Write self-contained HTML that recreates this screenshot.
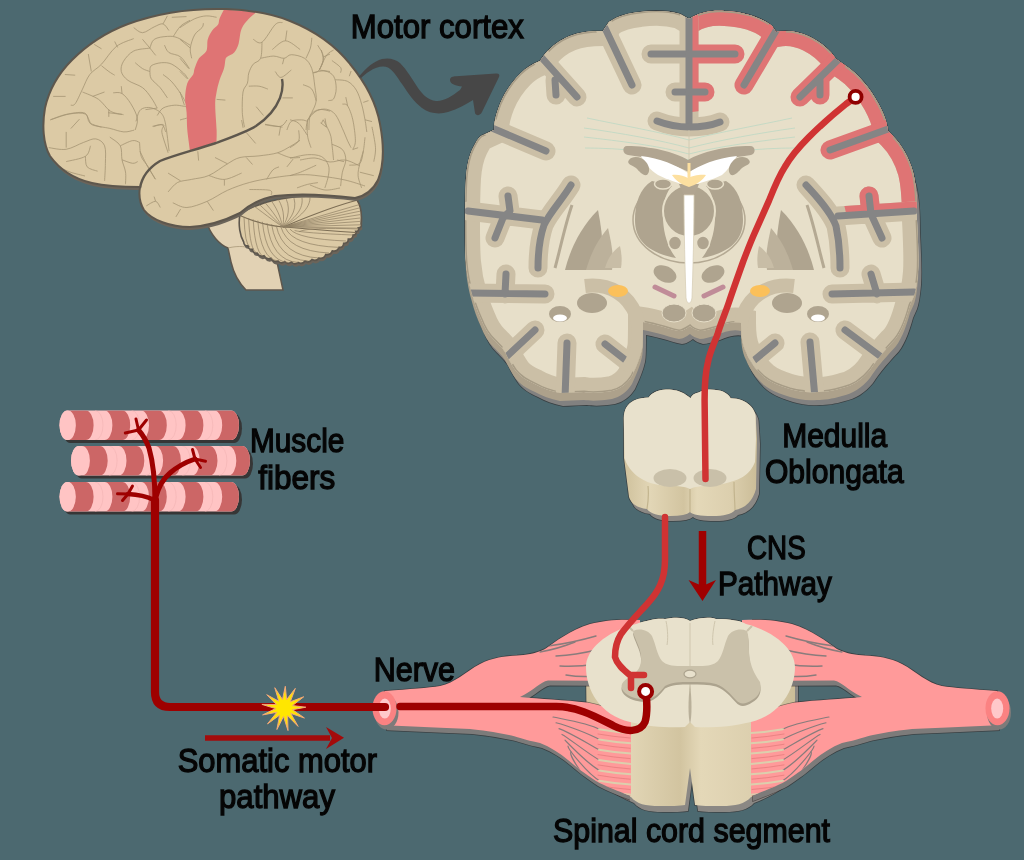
<!DOCTYPE html>
<html><head><meta charset="utf-8"><title>Somatic motor pathway</title>
<style>
html,body{margin:0;padding:0;background:#4c6970;}
svg{display:block;}
text{font-family:"Liberation Sans",sans-serif;font-size:33px;font-weight:normal;fill:#050505;stroke:#050505;stroke-width:1.3px;}
</style></head><body>
<svg width="1024" height="860" viewBox="0 0 1024 860">
<rect width="1024" height="860" fill="#4c6970"/>

<!-- ===== LATERAL BRAIN ===== -->
<defs>
 <clipPath id="cerebClip"><path d="M226,9 C250,10 270,13 290,21 C315,31 335,45 350,64 C365,82 376,102 380,124 C384,145 384,165 378,180 C373,190 365,196 355,198 C330,195 300,193 275,196 C258,199 248,206 240,213 C228,219 210,226 190,227 C170,227 152,220 144,210 C139,202 139,193 140,187 C125,187 105,186 92,183 C75,179 60,170 50,156 C43,144 42,125 45,108 C49,90 58,74 72,60 C86,46 104,33 128,24 C155,14 190,8 226,9 Z"/></clipPath>
 <clipPath id="tempClip"><path d="M140,188 C142,176 150,167 160,161 C175,155 195,150 216,143 C232,137 246,132 256,126 C268,118 276,108 280,98 L300,100 L384,150 L378,180 C373,190 365,196 355,198 C330,195 300,193 275,196 C258,199 248,206 240,213 C228,219 210,226 190,227 C170,227 152,220 144,210 C139,202 139,193 140,187 Z"/></clipPath>
 <clipPath id="cblClip"><path d="M240,214 C255,204 280,197 310,196 C335,196 352,198 357,200 C361,206 362,215 361,224 Q362.3,227.7 358.3,227.7 Q359.6,231.4 355.7,231.3 Q356.9,235.0 353.0,235.0 Q352.8,239.5 348.3,239.1 Q348.1,243.6 343.7,243.3 Q343.5,247.7 339.0,247.4 Q337.2,252.0 332.3,250.9 Q330.5,255.5 325.7,254.5 Q323.8,259.1 319.0,258.0 Q316.2,261.9 312.0,259.5 Q309.2,263.4 305.0,261.0 Q302.2,264.9 298.0,262.5 Q294.4,265.4 291.3,262.0 Q287.8,264.9 284.7,261.5 Q281.1,264.4 278.0,261.0 Q273.4,262.7 271.0,258.3 Q266.4,260.0 264.0,255.7 Q259.4,257.3 257.0,253.0 Q252.7,253.6 252.6,249.3 Q248.3,250.0 248.1,245.7 Q243.9,246.3 243.7,242.0 C240,236 238,225 240,214 Z"/></clipPath>
</defs>
<g id="lat">
  <path d="M206,220 C210,235 220,245 228,248 L231,262 C234,275 240,284 246,290 L283,290 L277,262 L262,256 L246,242 L240,214 Z" fill="#e2d2b4" stroke="#5e574d" stroke-width="1.5"/>
  <path d="M228,248 C236,246 244,246 250,248" fill="none" stroke="#a89878" stroke-width="0.8"/>
  <path d="M240,214 C255,204 280,197 310,196 C335,196 352,198 357,200 C361,206 362,215 361,224 Q362.3,227.7 358.3,227.7 Q359.6,231.4 355.7,231.3 Q356.9,235.0 353.0,235.0 Q352.8,239.5 348.3,239.1 Q348.1,243.6 343.7,243.3 Q343.5,247.7 339.0,247.4 Q337.2,252.0 332.3,250.9 Q330.5,255.5 325.7,254.5 Q323.8,259.1 319.0,258.0 Q316.2,261.9 312.0,259.5 Q309.2,263.4 305.0,261.0 Q302.2,264.9 298.0,262.5 Q294.4,265.4 291.3,262.0 Q287.8,264.9 284.7,261.5 Q281.1,264.4 278.0,261.0 Q273.4,262.7 271.0,258.3 Q266.4,260.0 264.0,255.7 Q259.4,257.3 257.0,253.0 Q252.7,253.6 252.6,249.3 Q248.3,250.0 248.1,245.7 Q243.9,246.3 243.7,242.0 C240,236 238,225 240,214 Z" transform="translate(1,3)" fill="#6b645a"/>
  <path d="M240,214 C255,204 280,197 310,196 C335,196 352,198 357,200 C361,206 362,215 361,224 Q362.3,227.7 358.3,227.7 Q359.6,231.4 355.7,231.3 Q356.9,235.0 353.0,235.0 Q352.8,239.5 348.3,239.1 Q348.1,243.6 343.7,243.3 Q343.5,247.7 339.0,247.4 Q337.2,252.0 332.3,250.9 Q330.5,255.5 325.7,254.5 Q323.8,259.1 319.0,258.0 Q316.2,261.9 312.0,259.5 Q309.2,263.4 305.0,261.0 Q302.2,264.9 298.0,262.5 Q294.4,265.4 291.3,262.0 Q287.8,264.9 284.7,261.5 Q281.1,264.4 278.0,261.0 Q273.4,262.7 271.0,258.3 Q266.4,260.0 264.0,255.7 Q259.4,257.3 257.0,253.0 Q252.7,253.6 252.6,249.3 Q248.3,250.0 248.1,245.7 Q243.9,246.3 243.7,242.0 C240,236 238,225 240,214 Z" fill="#dccaa5" stroke="#5e574d" stroke-width="1.6"/>
  <g fill="none" stroke="#8f8064" stroke-width="0.7" clip-path="url(#cblClip)">
    <path d="M241,216 C255,222 270,226 283,227 C300,228 330,231 362,233" stroke-width="1.1" stroke="#7d6e55"/>
    <path d="M283,227 C300,220 330,207 358,200" stroke-width="1.1" stroke="#7d6e55"/>
    <path d="M283,227 L360,204.4"/><path d="M283,227 L360,207.8"/><path d="M283,227 L360,211.2"/><path d="M283,227 L360,214.6"/><path d="M283,227 L360,218.0"/><path d="M283,227 L360,221.4"/><path d="M283,227 L360,224.8"/><path d="M283,227 L360,228.2"/>
    <path d="M246,200.0 C262,212 275,222 283,227"/><path d="M254,199.7 C268,212 277,222 283,227"/><path d="M262,199.4 C274,212 279,222 283,227"/><path d="M270,199.1 C280,212 281,222 283,227"/><path d="M278,198.8 C286,212 283,222 283,227"/><path d="M286,198.5 C292,212 285,222 283,227"/><path d="M294,198.2 C298,212 287,222 283,227"/><path d="M302,197.9 C304,212 289,222 283,227"/><path d="M310,197.6 C310,212 291,222 283,227"/>
    <path d="M244.0,216.8 Q244.9,245.0 250.0,247.0"/><path d="M248.6,218.1 Q249.9,251.0 257.0,253.0"/><path d="M253.2,219.3 Q255.1,256.0 266.0,258.0"/><path d="M257.8,220.5 Q260.8,259.0 278.0,261.0"/><path d="M262.4,221.8 Q266.2,260.5 288.0,262.5"/><path d="M267.0,223.0 Q271.6,260.5 298.0,262.5"/><path d="M271.6,224.3 Q277.1,259.0 308.0,261.0"/><path d="M276.2,225.5 Q282.6,256.0 319.0,258.0"/><path d="M280.8,226.7 Q288.0,251.0 329.0,253.0"/><path d="M285.4,228.0 Q293.4,245.4 339.0,247.4"/><path d="M290.0,229.2 Q298.4,239.0 346.0,241.0"/><path d="M294.6,230.5 Q303.4,233.0 353.0,235.0"/><path d="M299.2,231.7 Q308.0,227.0 358.0,229.0"/>
  </g>
  <path d="M226,9 C250,10 270,13 290,21 C315,31 335,45 350,64 C365,82 376,102 380,124 C384,145 384,165 378,180 C373,190 365,196 355,198 C330,195 300,193 275,196 C258,199 248,206 240,213 C228,219 210,226 190,227 C170,227 152,220 144,210 C139,202 139,193 140,187 C125,187 105,186 92,183 C75,179 60,170 50,156 C43,144 42,125 45,108 C49,90 58,74 72,60 C86,46 104,33 128,24 C155,14 190,8 226,9 Z" transform="translate(1,3)" fill="#6b645a"/>
  <path d="M226,9 C250,10 270,13 290,21 C315,31 335,45 350,64 C365,82 376,102 380,124 C384,145 384,165 378,180 C373,190 365,196 355,198 C330,195 300,193 275,196 C258,199 248,206 240,213 C228,219 210,226 190,227 C170,227 152,220 144,210 C139,202 139,193 140,187 C125,187 105,186 92,183 C75,179 60,170 50,156 C43,144 42,125 45,108 C49,90 58,74 72,60 C86,46 104,33 128,24 C155,14 190,8 226,9 Z" fill="#dccaa5"/>
  <g fill="none" stroke="#a49474" stroke-width="0.8" clip-path="url(#cerebClip)">
  <path d="M133.7,38.6 C130.8,39.9 121.6,42.3 116.2,46.6 C110.8,50.9 105.9,59.6 101.5,64.2 C97.1,68.9 93.0,70.3 89.8,74.5 C86.6,78.7 84.9,84.2 82.5,89.1 C80.1,94.0 77.2,101.0 75.2,103.7 C73.2,106.4 71.5,105.0 70.8,105.2"/>
<path d="M94.2,44.4 L101.5,48.8"/>
<path d="M114.7,41.5 L117.6,47.4"/>
<path d="M88.3,54.0 L91.3,71.5"/>
<path d="M64.9,74.5 L75.2,75.2"/>
<path d="M53.2,96.4 L65.6,96.4"/>
<path d="M101.5,65.7 C102.7,66.7 106.6,69.9 108.8,71.5 C111.0,73.1 113.7,74.6 114.7,75.2"/>
<path d="M82.5,92.0 C85.2,93.2 94.0,96.2 98.6,99.4 C103.2,102.6 106.1,108.5 110.3,111.1 C114.5,113.6 121.3,114.1 123.5,114.7"/>
<path d="M92.7,96.4 L104.5,92.0"/>
<path d="M108.8,109.6 L108.8,116.9"/>
<path d="M50.3,119.9 C53.5,118.9 63.4,115.0 69.3,114.0 C75.2,113.0 82.0,112.5 85.4,114.0 C88.8,115.5 87.1,120.6 89.8,122.8 C92.5,125.0 99.5,126.5 101.5,127.2"/>
<path d="M70.8,128.6 L79.5,119.1"/>
<path d="M113.2,92.8 C114.7,92.9 119.1,91.7 122.0,93.5 C124.9,95.3 128.2,99.5 130.8,103.7 C133.4,107.9 136.7,114.0 137.4,118.4 C138.1,122.8 135.6,128.1 135.2,130.0"/>
<path d="M121.3,86.2 L122.0,93.5"/>
<path d="M133.7,27.6 C135.2,28.5 139.1,32.8 142.5,32.7 C145.9,32.6 150.9,28.3 154.3,26.8 C157.7,25.3 160.6,23.3 163.0,23.9 C165.4,24.5 167.9,29.4 168.9,30.5"/>
<path d="M163.0,23.9 L167.4,15.9"/>
<path d="M171.8,17.3 L186.5,16.6"/>
<path d="M142.5,39.3 C143.7,40.8 147.7,45.4 149.9,48.1 C152.1,50.8 154.7,54.2 155.7,55.4"/>
<path d="M149.9,48.1 C147.2,48.6 138.1,48.8 133.7,51.0 C129.3,53.2 125.6,57.9 123.5,61.3 C121.4,64.7 120.6,68.3 121.3,71.5 C122.0,74.7 124.4,77.6 127.9,80.3 C131.4,83.0 138.6,84.7 142.5,87.6 C146.4,90.5 148.9,94.5 151.3,97.9 C153.8,101.3 156.2,106.4 157.2,108.1"/>
<path d="M149.9,48.1 C150.6,46.6 151.4,41.2 154.3,39.3 C157.2,37.3 163.5,36.6 167.4,36.4 C171.3,36.1 173.9,36.3 177.7,37.8 C181.5,39.3 187.9,44.0 190.0,45.2"/>
<path d="M173.3,36.4 C174.5,34.7 177.8,28.8 180.6,26.1 C183.4,23.4 188.4,21.3 190.0,20.3"/>
<path d="M135.2,62.7 C136.4,63.7 140.1,67.1 142.5,68.6 C144.9,70.1 148.7,71.0 149.9,71.5"/>
<path d="M149.9,71.5 C150.1,70.5 149.4,67.2 151.3,65.7 C153.2,64.2 158.2,63.0 161.6,62.7 C165.0,62.5 168.2,62.5 171.8,64.2 C175.5,65.9 180.8,70.6 183.5,73.0 C186.2,75.4 187.2,77.8 188.0,78.8"/>
<path d="M149.9,71.5 C150.1,72.7 149.6,76.1 151.3,78.8 C153.0,81.5 157.4,84.4 160.1,87.6 C162.8,90.8 166.2,96.2 167.4,97.9"/>
<path d="M163.0,74.5 C164.5,75.7 168.9,78.6 171.8,81.8 C174.7,85.0 178.2,89.8 180.6,93.5 C183.0,97.2 185.5,102.0 186.5,103.7"/>
<path d="M164.5,45.2 C165.2,46.4 166.2,50.5 168.9,52.5 C171.6,54.5 177.2,54.2 180.6,56.9 C184.0,59.6 187.9,66.6 189.4,68.6"/>
<path d="M157.2,115.5 C158.2,114.3 160.1,109.8 163.0,108.1 C165.9,106.4 170.9,105.4 174.8,105.2 C178.7,105.0 184.6,106.5 186.5,106.7"/>
<path d="M145.5,109.6 L157.2,108.1"/>
<path d="M180.0,27.6 C182.4,26.1 190.2,20.8 194.6,18.8 C199.0,16.9 202.7,16.1 206.4,15.9 C210.1,15.7 214.9,17.1 216.6,17.3"/>
<path d="M203.4,23.2 C203.2,23.9 203.5,25.7 202.0,27.6 C200.5,29.6 196.5,31.5 194.6,34.9 C192.7,38.3 190.8,44.2 190.3,48.1 C189.8,52.0 191.5,56.6 191.7,58.3"/>
<path d="M180.0,39.3 L190.3,48.1"/>
<path d="M180.0,58.3 L188.8,68.6"/>
<path d="M180.0,71.5 L187.3,78.8"/>
<path d="M180.0,92.0 L184.4,105.2"/>
<path d="M253.2,39.3 C254.7,39.8 258.3,44.7 262.0,42.2 C265.7,39.8 271.8,27.9 275.2,24.6 C278.6,21.3 281.3,22.9 282.5,22.5"/>
<path d="M262.0,42.2 C261.8,44.9 262.1,54.6 260.6,58.3 C259.1,62.0 255.2,61.8 253.2,64.2 C251.2,66.7 249.8,69.8 248.8,73.0 C247.8,76.2 248.4,80.0 247.4,83.2 C246.4,86.4 243.8,87.1 243.0,92.0 C242.2,96.9 242.1,106.6 242.3,112.5 C242.6,118.4 244.1,124.8 244.5,127.2"/>
<path d="M272.3,49.5 C274.5,48.0 280.9,40.8 285.5,40.8 C290.1,40.8 297.7,48.0 300.1,49.5"/>
<path d="M285.5,40.8 L286.9,30.5"/>
<path d="M260.6,58.3 C262.8,57.9 269.8,56.1 273.7,56.1 C277.6,56.1 281.1,58.5 284.0,58.3 C286.9,58.1 287.9,54.7 291.3,54.7 C294.7,54.7 301.1,56.0 304.5,58.3 C307.9,60.6 310.1,63.9 311.8,68.6 C313.5,73.2 314.1,80.8 314.8,86.2 C315.5,91.6 316.7,96.4 316.2,100.8 C315.7,105.2 313.3,109.1 311.8,112.5 C310.3,115.9 308.4,118.4 307.4,121.3 C306.4,124.2 306.2,128.6 306.0,130.0"/>
<path d="M284.0,58.3 L282.5,64.2"/>
<path d="M248.8,86.2 C250.5,86.2 255.9,85.7 259.1,86.2 C262.3,86.7 266.4,88.6 267.9,89.1"/>
<path d="M275.2,71.5 C276.2,72.5 278.3,77.7 281.0,77.4 C283.7,77.2 289.6,71.2 291.3,70.0"/>
<path d="M282.5,97.9 L292.8,97.9"/>
<path d="M256.2,106.7 L263.5,115.5"/>
<path d="M303.0,84.7 C304.5,85.4 309.6,86.4 311.8,89.1 C314.0,91.8 315.5,98.8 316.2,100.8"/>
<path d="M311.8,37.8 C311.6,39.5 311.4,44.7 310.4,48.1 C309.4,51.5 306.7,56.6 306.0,58.3"/>
<path d="M317.7,45.2 C318.7,47.2 323.2,52.8 323.5,56.9 C323.8,61.0 320.9,67.3 319.2,70.0 C317.5,72.7 314.3,72.5 313.3,73.0"/>
<path d="M323.5,56.9 L330.0,54.0"/>
<path d="M330.0,71.5 L319.2,70.0"/>
<path d="M308.9,130.0 C309.1,127.6 308.7,118.9 310.4,115.5 C312.1,112.1 315.9,110.3 319.2,109.6 C322.5,108.9 328.2,110.8 330.0,111.1"/>
<path d="M286.9,130.0 C287.6,128.6 288.9,123.0 291.3,121.3 C293.8,119.6 298.9,119.9 301.6,119.9 C304.3,119.9 306.4,121.1 307.4,121.3"/>
<path d="M265.0,124.3 L282.5,127.2"/>
<path d="M320.6,122.8 L326.5,127.2"/>
<path d="M325.0,118.4 L326.5,127.2"/>
<path d="M216.6,99.4 L225.4,100.1"/>
<path d="M180.0,120.0 C182.3,119.2 190.3,117.7 194.0,115.0 C197.7,112.3 200.7,105.8 202.0,104.0"/>
<path d="M321.4,50.0 C321.7,51.8 323.5,57.3 323.2,60.5 C322.9,63.7 320.3,67.8 319.7,69.2"/>
<path d="M312.7,72.7 C314.7,72.4 321.4,70.4 324.9,71.0 C328.4,71.6 331.7,73.3 333.6,76.2 C335.5,79.1 336.2,84.6 336.2,88.4 C336.2,92.2 334.9,96.9 333.6,98.9 C332.3,100.9 329.3,100.3 328.4,100.6"/>
<path d="M319.7,69.2 C320.9,66.9 324.3,58.4 326.6,55.2 C328.9,52.0 332.4,50.9 333.6,50.0"/>
<path d="M331.9,60.5 C333.3,61.7 339.2,65.5 340.6,67.5 C342.1,69.5 340.6,71.8 340.6,72.7"/>
<path d="M349.3,76.2 L351.1,71.0"/>
<path d="M335.4,79.7 C337.4,80.0 344.1,79.7 347.6,81.4 C351.1,83.1 354.0,86.3 356.3,90.1 C358.6,93.9 360.2,99.1 361.6,104.1 C363.1,109.0 364.1,115.1 365.0,119.8 C365.9,124.5 366.5,130.0 366.8,132.0"/>
<path d="M363.3,102.4 L368.5,100.6"/>
<path d="M365.0,119.8 L372.0,121.6"/>
<path d="M342.4,104.1 C343.3,104.4 345.9,103.2 347.6,105.8 C349.3,108.4 351.5,114.0 352.8,119.8 C354.1,125.6 355.4,135.9 355.4,140.8 C355.4,145.8 353.2,148.1 352.8,149.5"/>
<path d="M347.6,105.8 L345.8,97.1"/>
<path d="M352.8,149.5 L358.1,147.7"/>
<path d="M323.2,119.8 C324.4,122.1 328.7,129.7 330.1,133.8 C331.6,137.9 331.3,139.8 331.9,144.2 C332.5,148.6 333.3,157.4 333.6,160.0"/>
<path d="M323.2,119.8 L321.4,123.3"/>
<path d="M307.5,119.8 C308.9,118.3 313.0,112.8 316.2,111.1 C319.4,109.3 323.4,108.7 326.6,109.3 C329.8,109.9 332.8,111.4 335.4,114.6 C338.0,117.8 340.4,124.1 342.4,128.5 C344.4,132.9 346.2,137.6 347.6,140.8 C349.1,144.0 350.5,146.5 351.1,147.7"/>
<path d="M307.5,119.8 C307.5,122.4 306.9,130.8 307.5,135.5 C308.1,140.2 310.4,145.7 311.0,147.7"/>
<path d="M290.0,119.8 C291.4,120.4 295.8,120.7 298.7,123.3 C301.6,125.9 306.0,133.5 307.5,135.5"/>
<path d="M298.7,130.3 C298.7,132.1 300.1,137.9 298.7,140.8 C297.2,143.7 291.4,146.5 290.0,147.7"/>
<path d="M331.9,144.2 C333.6,145.1 340.1,146.9 342.4,149.5 C344.7,152.1 345.8,156.2 345.8,160.0 C345.8,163.8 343.3,167.8 342.4,172.2 C341.5,176.5 340.9,183.8 340.6,186.1"/>
<path d="M337.1,160.0 L344.1,161.7"/>
<path d="M349.3,165.2 C351.1,164.9 357.5,165.7 359.8,163.4 C362.1,161.1 362.4,155.5 363.3,151.2 C364.2,146.8 364.7,139.6 365.0,137.3"/>
<path d="M363.3,151.2 C362.7,153.2 360.7,159.3 359.8,163.4 C358.9,167.5 357.8,171.6 358.1,175.7 C358.4,179.8 361.0,185.9 361.6,187.9"/>
<path d="M372.0,126.8 C372.6,130.3 375.2,141.9 375.5,147.7 C375.8,153.5 374.1,159.4 373.8,161.7"/>
<path d="M359.8,172.2 L373.8,175.7"/>
<path d="M290.0,158.2 C292.9,157.6 302.3,155.0 307.5,154.7 C312.7,154.4 317.9,154.8 321.4,156.5 C324.9,158.2 327.2,162.0 328.4,165.2 C329.6,168.4 329.0,171.9 328.4,175.7 C327.8,179.5 325.5,185.9 324.9,187.9"/>
<path d="M290.0,175.7 C291.8,175.1 296.1,173.9 300.5,172.2 C304.9,170.4 313.6,166.4 316.2,165.2"/>
<path d="M297.0,187.9 C298.8,187.3 304.0,185.3 307.5,184.4 C311.0,183.5 316.2,182.9 317.9,182.6"/>
<path d="M168.1,191.9 C169.7,190.3 173.6,184.6 177.5,182.5 C181.4,180.4 186.4,180.6 191.6,179.4 C196.8,178.2 202.8,178.1 208.8,175.5 C214.8,172.9 222.3,166.8 227.5,163.8 C232.7,160.8 234.8,158.8 240.0,157.5 C245.2,156.2 252.6,156.7 258.8,155.9 C265.1,155.1 272.3,154.4 277.5,152.8 C282.7,151.2 286.2,148.7 290.0,146.6 C293.8,144.5 298.3,141.4 300.0,140.3"/>
<path d="M172.8,202.8 C175.2,203.6 181.2,207.8 186.9,207.5 C192.6,207.2 200.4,204.2 207.2,201.3 C214.0,198.4 220.5,193.4 227.5,190.3 C234.5,187.2 241.8,184.6 249.4,182.5 C256.9,180.4 264.4,179.1 272.8,177.8 C281.2,176.5 292.1,175.0 300.0,174.7 C307.9,174.4 312.5,175.1 320.0,176.0 C327.5,176.9 337.5,178.3 345.0,180.0 C352.5,181.7 361.7,185.0 365.0,186.0"/>
<path d="M168.1,173.1 L180.6,180.9"/>
<path d="M215.0,157.5 L227.5,163.8"/>
<path d="M208.8,175.5 C211.4,176.2 218.9,179.8 224.4,179.4 C229.9,179.0 238.7,174.2 241.6,173.1"/>
<path d="M224.4,179.4 L224.4,185.6"/>
<path d="M246.3,157.5 L252.5,164.5"/>
<path d="M266.6,179.4 C267.6,177.8 270.7,172.1 272.8,170.0 C274.9,167.9 278.0,167.4 279.0,166.9"/>
<path d="M277.5,152.8 C279.6,153.6 286.2,156.7 290.0,157.5 C293.8,158.3 298.3,157.5 300.0,157.5"/>
<path d="M286.9,166.9 L293.1,159.1"/>
<path d="M249.4,189.5 C252.8,189.6 266.1,189.4 269.7,190.3 C273.3,191.2 271.0,194.2 271.3,195.0"/>
<path d="M207.2,201.3 L213.4,210.6"/>
<path d="M175.9,216.9 L180.6,209.1"/>
<path d="M146.3,205.9 C147.9,205.1 153.3,201.0 155.6,201.3 C157.9,201.6 159.5,206.5 160.3,207.5"/>
<path d="M154.1,196.6 L155.6,201.3"/>
<path d="M300.0,160.0 C302.5,159.7 310.0,157.7 315.0,158.0 C320.0,158.3 325.0,161.7 330.0,162.0 C335.0,162.3 340.0,159.3 345.0,160.0 C350.0,160.7 357.5,165.0 360.0,166.0"/>
<path d="M310.0,185.0 C312.5,185.8 320.0,189.5 325.0,190.0 C330.0,190.5 337.5,188.3 340.0,188.0"/>
<path d="M152.5,126.3 C154.3,126.0 161.8,123.7 163.4,124.7 C165.0,125.7 161.1,127.8 161.9,132.5 C162.7,137.2 167.1,149.4 168.1,152.8"/>
<path d="M140.0,151.3 C141.3,153.9 145.2,162.2 147.8,166.9 C150.4,171.6 154.3,177.3 155.6,179.4"/>
<path d="M197.8,151.3 L198.6,160.6"/>
<path d="M241.6,120.0 L243.1,127.8"/>
<path d="M246.3,132.5 L255.6,143.4"/>
<path d="M265.0,124.7 C267.6,125.0 277.0,127.1 280.6,126.3 C284.2,125.5 285.8,121.0 286.9,120.0"/>
<path d="M280.6,126.3 L279.0,135.6"/>
<path d="M50.5,119.7 C53.1,118.8 60.7,115.6 66.2,114.4 C71.7,113.2 79.8,111.8 83.6,112.7 C87.4,113.6 87.4,117.7 88.9,119.7 C90.4,121.7 88.9,123.5 92.4,124.9 C95.9,126.4 104.6,127.2 109.8,128.4 C115.0,129.6 119.7,131.6 123.8,131.9 C127.9,132.2 132.5,130.4 134.2,130.1"/>
<path d="M66.2,131.9 L66.2,147.6"/>
<path d="M48.7,147.6 C51.6,147.9 60.4,150.2 66.2,149.3 C72.0,148.4 78.7,144.1 83.6,142.4 C88.5,140.7 92.3,138.3 95.8,138.9 C99.3,139.5 103.0,141.7 104.6,145.8 C106.2,149.9 105.4,157.5 105.4,163.3 C105.4,169.1 104.7,177.9 104.6,180.8"/>
<path d="M66.2,161.6 C69.4,160.7 81.3,158.9 85.4,156.3 C89.5,153.7 89.7,147.6 90.6,145.8"/>
<path d="M85.4,156.3 C85.7,158.1 85.1,164.3 87.1,166.8 C89.1,169.3 95.8,170.5 97.6,171.2"/>
<path d="M109.8,137.1 C111.5,138.6 118.3,142.0 120.3,145.8 C122.3,149.6 121.1,155.4 122.0,159.8 C122.9,164.2 124.9,167.9 125.5,172.0 C126.1,176.1 125.5,182.2 125.5,184.2"/>
<path d="M120.3,145.8 C122.3,144.9 129.3,141.2 132.5,140.6 C135.7,140.0 138.3,142.1 139.5,142.4"/>
<path d="M122.0,159.8 C123.8,160.4 129.9,163.0 132.5,163.3 C135.1,163.6 136.8,161.9 137.7,161.6"/>
<path d="M139.5,142.4 C139.8,144.7 139.8,152.2 141.2,156.3 C142.6,160.4 145.9,163.0 148.2,166.8 C150.5,170.6 154.0,177.0 155.2,179.0"/>
<path d="M136.0,121.4 C136.6,119.7 137.8,113.2 139.5,110.9 C141.2,108.6 143.9,107.8 146.5,107.5 C149.1,107.2 152.6,108.0 155.2,109.2 C157.8,110.4 160.4,111.8 162.2,114.4 C163.9,117.0 164.5,118.8 165.7,124.9 C166.8,131.0 168.5,146.7 169.1,151.1"/>
<path d="M153.4,126.6 C154.9,126.3 160.1,124.0 162.2,124.9 C164.2,125.8 165.1,130.7 165.7,131.9"/>
<path d="M108.1,112.7 L122.0,114.4"/>
<path d="M55.0,165.0 C57.5,166.2 65.0,170.2 70.0,172.0 C75.0,173.8 82.5,175.3 85.0,176.0"/>
  </g>
  <path d="M224,9.5 L256.5,12 C255.2,13.1 251.3,16.0 248.8,18.8 C246.3,21.6 243.2,24.9 241.5,29.0 C239.8,33.1 239.8,39.8 238.6,43.7 C237.4,47.6 236.1,50.3 234.2,52.5 C232.2,54.7 228.4,55.7 226.9,56.9 C225.4,58.1 225.9,57.8 225.4,59.8 C224.9,61.8 225.0,65.2 224.0,68.6 C223.0,72.0 220.7,76.4 219.5,80.3 C218.3,84.2 217.3,87.8 216.6,92.0 C215.9,96.2 215.2,98.9 215.2,105.2 C215.2,111.5 216.4,124.0 216.6,130.0 C216.8,136.1 216.5,139.6 216.5,141.5 L190,151.5 C189.6,147.9 187.9,136.5 187.3,130.0 C186.7,123.5 187.0,117.8 186.6,112.5 C186.2,107.2 185.0,102.8 185.1,97.9 C185.2,93.0 186.0,87.1 187.3,83.2 C188.7,79.3 192.0,76.9 193.2,74.5 C194.4,72.1 193.6,71.3 194.6,68.6 C195.6,65.9 197.0,61.2 199.0,58.3 C201.0,55.4 204.9,54.2 206.4,51.0 C207.9,47.8 206.8,42.7 207.8,39.3 C208.8,35.9 210.5,33.0 212.2,30.5 C213.9,28.1 216.9,26.6 218.1,24.6 C219.3,22.7 218.5,21.3 219.5,18.8 C220.5,16.3 223.2,11.1 224.0,9.5 Z" fill="#df7474"/>
  <path d="M140,188 C142,176 150,167 160,161 C175,155 195,150 216,143 C232,137 246,132 256,126 C268,118 276,108 280,98 L300,100 L384,150 L378,180 C373,190 365,196 355,198 C330,195 300,193 275,196 C258,199 248,206 240,213 C228,219 210,226 190,227 C170,227 152,220 144,210 C139,202 139,193 140,187 Z" fill="#dccaa5" clip-path="url(#cerebClip)"/>
  <g fill="none" stroke="#a49474" stroke-width="0.8" clip-path="url(#tempClip)">
  <path d="M133.7,38.6 C130.8,39.9 121.6,42.3 116.2,46.6 C110.8,50.9 105.9,59.6 101.5,64.2 C97.1,68.9 93.0,70.3 89.8,74.5 C86.6,78.7 84.9,84.2 82.5,89.1 C80.1,94.0 77.2,101.0 75.2,103.7 C73.2,106.4 71.5,105.0 70.8,105.2"/>
<path d="M94.2,44.4 L101.5,48.8"/>
<path d="M114.7,41.5 L117.6,47.4"/>
<path d="M88.3,54.0 L91.3,71.5"/>
<path d="M64.9,74.5 L75.2,75.2"/>
<path d="M53.2,96.4 L65.6,96.4"/>
<path d="M101.5,65.7 C102.7,66.7 106.6,69.9 108.8,71.5 C111.0,73.1 113.7,74.6 114.7,75.2"/>
<path d="M82.5,92.0 C85.2,93.2 94.0,96.2 98.6,99.4 C103.2,102.6 106.1,108.5 110.3,111.1 C114.5,113.6 121.3,114.1 123.5,114.7"/>
<path d="M92.7,96.4 L104.5,92.0"/>
<path d="M108.8,109.6 L108.8,116.9"/>
<path d="M50.3,119.9 C53.5,118.9 63.4,115.0 69.3,114.0 C75.2,113.0 82.0,112.5 85.4,114.0 C88.8,115.5 87.1,120.6 89.8,122.8 C92.5,125.0 99.5,126.5 101.5,127.2"/>
<path d="M70.8,128.6 L79.5,119.1"/>
<path d="M113.2,92.8 C114.7,92.9 119.1,91.7 122.0,93.5 C124.9,95.3 128.2,99.5 130.8,103.7 C133.4,107.9 136.7,114.0 137.4,118.4 C138.1,122.8 135.6,128.1 135.2,130.0"/>
<path d="M121.3,86.2 L122.0,93.5"/>
<path d="M133.7,27.6 C135.2,28.5 139.1,32.8 142.5,32.7 C145.9,32.6 150.9,28.3 154.3,26.8 C157.7,25.3 160.6,23.3 163.0,23.9 C165.4,24.5 167.9,29.4 168.9,30.5"/>
<path d="M163.0,23.9 L167.4,15.9"/>
<path d="M171.8,17.3 L186.5,16.6"/>
<path d="M142.5,39.3 C143.7,40.8 147.7,45.4 149.9,48.1 C152.1,50.8 154.7,54.2 155.7,55.4"/>
<path d="M149.9,48.1 C147.2,48.6 138.1,48.8 133.7,51.0 C129.3,53.2 125.6,57.9 123.5,61.3 C121.4,64.7 120.6,68.3 121.3,71.5 C122.0,74.7 124.4,77.6 127.9,80.3 C131.4,83.0 138.6,84.7 142.5,87.6 C146.4,90.5 148.9,94.5 151.3,97.9 C153.8,101.3 156.2,106.4 157.2,108.1"/>
<path d="M149.9,48.1 C150.6,46.6 151.4,41.2 154.3,39.3 C157.2,37.3 163.5,36.6 167.4,36.4 C171.3,36.1 173.9,36.3 177.7,37.8 C181.5,39.3 187.9,44.0 190.0,45.2"/>
<path d="M173.3,36.4 C174.5,34.7 177.8,28.8 180.6,26.1 C183.4,23.4 188.4,21.3 190.0,20.3"/>
<path d="M135.2,62.7 C136.4,63.7 140.1,67.1 142.5,68.6 C144.9,70.1 148.7,71.0 149.9,71.5"/>
<path d="M149.9,71.5 C150.1,70.5 149.4,67.2 151.3,65.7 C153.2,64.2 158.2,63.0 161.6,62.7 C165.0,62.5 168.2,62.5 171.8,64.2 C175.5,65.9 180.8,70.6 183.5,73.0 C186.2,75.4 187.2,77.8 188.0,78.8"/>
<path d="M149.9,71.5 C150.1,72.7 149.6,76.1 151.3,78.8 C153.0,81.5 157.4,84.4 160.1,87.6 C162.8,90.8 166.2,96.2 167.4,97.9"/>
<path d="M163.0,74.5 C164.5,75.7 168.9,78.6 171.8,81.8 C174.7,85.0 178.2,89.8 180.6,93.5 C183.0,97.2 185.5,102.0 186.5,103.7"/>
<path d="M164.5,45.2 C165.2,46.4 166.2,50.5 168.9,52.5 C171.6,54.5 177.2,54.2 180.6,56.9 C184.0,59.6 187.9,66.6 189.4,68.6"/>
<path d="M157.2,115.5 C158.2,114.3 160.1,109.8 163.0,108.1 C165.9,106.4 170.9,105.4 174.8,105.2 C178.7,105.0 184.6,106.5 186.5,106.7"/>
<path d="M145.5,109.6 L157.2,108.1"/>
<path d="M180.0,27.6 C182.4,26.1 190.2,20.8 194.6,18.8 C199.0,16.9 202.7,16.1 206.4,15.9 C210.1,15.7 214.9,17.1 216.6,17.3"/>
<path d="M203.4,23.2 C203.2,23.9 203.5,25.7 202.0,27.6 C200.5,29.6 196.5,31.5 194.6,34.9 C192.7,38.3 190.8,44.2 190.3,48.1 C189.8,52.0 191.5,56.6 191.7,58.3"/>
<path d="M180.0,39.3 L190.3,48.1"/>
<path d="M180.0,58.3 L188.8,68.6"/>
<path d="M180.0,71.5 L187.3,78.8"/>
<path d="M180.0,92.0 L184.4,105.2"/>
<path d="M253.2,39.3 C254.7,39.8 258.3,44.7 262.0,42.2 C265.7,39.8 271.8,27.9 275.2,24.6 C278.6,21.3 281.3,22.9 282.5,22.5"/>
<path d="M262.0,42.2 C261.8,44.9 262.1,54.6 260.6,58.3 C259.1,62.0 255.2,61.8 253.2,64.2 C251.2,66.7 249.8,69.8 248.8,73.0 C247.8,76.2 248.4,80.0 247.4,83.2 C246.4,86.4 243.8,87.1 243.0,92.0 C242.2,96.9 242.1,106.6 242.3,112.5 C242.6,118.4 244.1,124.8 244.5,127.2"/>
<path d="M272.3,49.5 C274.5,48.0 280.9,40.8 285.5,40.8 C290.1,40.8 297.7,48.0 300.1,49.5"/>
<path d="M285.5,40.8 L286.9,30.5"/>
<path d="M260.6,58.3 C262.8,57.9 269.8,56.1 273.7,56.1 C277.6,56.1 281.1,58.5 284.0,58.3 C286.9,58.1 287.9,54.7 291.3,54.7 C294.7,54.7 301.1,56.0 304.5,58.3 C307.9,60.6 310.1,63.9 311.8,68.6 C313.5,73.2 314.1,80.8 314.8,86.2 C315.5,91.6 316.7,96.4 316.2,100.8 C315.7,105.2 313.3,109.1 311.8,112.5 C310.3,115.9 308.4,118.4 307.4,121.3 C306.4,124.2 306.2,128.6 306.0,130.0"/>
<path d="M284.0,58.3 L282.5,64.2"/>
<path d="M248.8,86.2 C250.5,86.2 255.9,85.7 259.1,86.2 C262.3,86.7 266.4,88.6 267.9,89.1"/>
<path d="M275.2,71.5 C276.2,72.5 278.3,77.7 281.0,77.4 C283.7,77.2 289.6,71.2 291.3,70.0"/>
<path d="M282.5,97.9 L292.8,97.9"/>
<path d="M256.2,106.7 L263.5,115.5"/>
<path d="M303.0,84.7 C304.5,85.4 309.6,86.4 311.8,89.1 C314.0,91.8 315.5,98.8 316.2,100.8"/>
<path d="M311.8,37.8 C311.6,39.5 311.4,44.7 310.4,48.1 C309.4,51.5 306.7,56.6 306.0,58.3"/>
<path d="M317.7,45.2 C318.7,47.2 323.2,52.8 323.5,56.9 C323.8,61.0 320.9,67.3 319.2,70.0 C317.5,72.7 314.3,72.5 313.3,73.0"/>
<path d="M323.5,56.9 L330.0,54.0"/>
<path d="M330.0,71.5 L319.2,70.0"/>
<path d="M308.9,130.0 C309.1,127.6 308.7,118.9 310.4,115.5 C312.1,112.1 315.9,110.3 319.2,109.6 C322.5,108.9 328.2,110.8 330.0,111.1"/>
<path d="M286.9,130.0 C287.6,128.6 288.9,123.0 291.3,121.3 C293.8,119.6 298.9,119.9 301.6,119.9 C304.3,119.9 306.4,121.1 307.4,121.3"/>
<path d="M265.0,124.3 L282.5,127.2"/>
<path d="M320.6,122.8 L326.5,127.2"/>
<path d="M325.0,118.4 L326.5,127.2"/>
<path d="M216.6,99.4 L225.4,100.1"/>
<path d="M180.0,120.0 C182.3,119.2 190.3,117.7 194.0,115.0 C197.7,112.3 200.7,105.8 202.0,104.0"/>
<path d="M321.4,50.0 C321.7,51.8 323.5,57.3 323.2,60.5 C322.9,63.7 320.3,67.8 319.7,69.2"/>
<path d="M312.7,72.7 C314.7,72.4 321.4,70.4 324.9,71.0 C328.4,71.6 331.7,73.3 333.6,76.2 C335.5,79.1 336.2,84.6 336.2,88.4 C336.2,92.2 334.9,96.9 333.6,98.9 C332.3,100.9 329.3,100.3 328.4,100.6"/>
<path d="M319.7,69.2 C320.9,66.9 324.3,58.4 326.6,55.2 C328.9,52.0 332.4,50.9 333.6,50.0"/>
<path d="M331.9,60.5 C333.3,61.7 339.2,65.5 340.6,67.5 C342.1,69.5 340.6,71.8 340.6,72.7"/>
<path d="M349.3,76.2 L351.1,71.0"/>
<path d="M335.4,79.7 C337.4,80.0 344.1,79.7 347.6,81.4 C351.1,83.1 354.0,86.3 356.3,90.1 C358.6,93.9 360.2,99.1 361.6,104.1 C363.1,109.0 364.1,115.1 365.0,119.8 C365.9,124.5 366.5,130.0 366.8,132.0"/>
<path d="M363.3,102.4 L368.5,100.6"/>
<path d="M365.0,119.8 L372.0,121.6"/>
<path d="M342.4,104.1 C343.3,104.4 345.9,103.2 347.6,105.8 C349.3,108.4 351.5,114.0 352.8,119.8 C354.1,125.6 355.4,135.9 355.4,140.8 C355.4,145.8 353.2,148.1 352.8,149.5"/>
<path d="M347.6,105.8 L345.8,97.1"/>
<path d="M352.8,149.5 L358.1,147.7"/>
<path d="M323.2,119.8 C324.4,122.1 328.7,129.7 330.1,133.8 C331.6,137.9 331.3,139.8 331.9,144.2 C332.5,148.6 333.3,157.4 333.6,160.0"/>
<path d="M323.2,119.8 L321.4,123.3"/>
<path d="M307.5,119.8 C308.9,118.3 313.0,112.8 316.2,111.1 C319.4,109.3 323.4,108.7 326.6,109.3 C329.8,109.9 332.8,111.4 335.4,114.6 C338.0,117.8 340.4,124.1 342.4,128.5 C344.4,132.9 346.2,137.6 347.6,140.8 C349.1,144.0 350.5,146.5 351.1,147.7"/>
<path d="M307.5,119.8 C307.5,122.4 306.9,130.8 307.5,135.5 C308.1,140.2 310.4,145.7 311.0,147.7"/>
<path d="M290.0,119.8 C291.4,120.4 295.8,120.7 298.7,123.3 C301.6,125.9 306.0,133.5 307.5,135.5"/>
<path d="M298.7,130.3 C298.7,132.1 300.1,137.9 298.7,140.8 C297.2,143.7 291.4,146.5 290.0,147.7"/>
<path d="M331.9,144.2 C333.6,145.1 340.1,146.9 342.4,149.5 C344.7,152.1 345.8,156.2 345.8,160.0 C345.8,163.8 343.3,167.8 342.4,172.2 C341.5,176.5 340.9,183.8 340.6,186.1"/>
<path d="M337.1,160.0 L344.1,161.7"/>
<path d="M349.3,165.2 C351.1,164.9 357.5,165.7 359.8,163.4 C362.1,161.1 362.4,155.5 363.3,151.2 C364.2,146.8 364.7,139.6 365.0,137.3"/>
<path d="M363.3,151.2 C362.7,153.2 360.7,159.3 359.8,163.4 C358.9,167.5 357.8,171.6 358.1,175.7 C358.4,179.8 361.0,185.9 361.6,187.9"/>
<path d="M372.0,126.8 C372.6,130.3 375.2,141.9 375.5,147.7 C375.8,153.5 374.1,159.4 373.8,161.7"/>
<path d="M359.8,172.2 L373.8,175.7"/>
<path d="M290.0,158.2 C292.9,157.6 302.3,155.0 307.5,154.7 C312.7,154.4 317.9,154.8 321.4,156.5 C324.9,158.2 327.2,162.0 328.4,165.2 C329.6,168.4 329.0,171.9 328.4,175.7 C327.8,179.5 325.5,185.9 324.9,187.9"/>
<path d="M290.0,175.7 C291.8,175.1 296.1,173.9 300.5,172.2 C304.9,170.4 313.6,166.4 316.2,165.2"/>
<path d="M297.0,187.9 C298.8,187.3 304.0,185.3 307.5,184.4 C311.0,183.5 316.2,182.9 317.9,182.6"/>
<path d="M168.1,191.9 C169.7,190.3 173.6,184.6 177.5,182.5 C181.4,180.4 186.4,180.6 191.6,179.4 C196.8,178.2 202.8,178.1 208.8,175.5 C214.8,172.9 222.3,166.8 227.5,163.8 C232.7,160.8 234.8,158.8 240.0,157.5 C245.2,156.2 252.6,156.7 258.8,155.9 C265.1,155.1 272.3,154.4 277.5,152.8 C282.7,151.2 286.2,148.7 290.0,146.6 C293.8,144.5 298.3,141.4 300.0,140.3"/>
<path d="M172.8,202.8 C175.2,203.6 181.2,207.8 186.9,207.5 C192.6,207.2 200.4,204.2 207.2,201.3 C214.0,198.4 220.5,193.4 227.5,190.3 C234.5,187.2 241.8,184.6 249.4,182.5 C256.9,180.4 264.4,179.1 272.8,177.8 C281.2,176.5 292.1,175.0 300.0,174.7 C307.9,174.4 312.5,175.1 320.0,176.0 C327.5,176.9 337.5,178.3 345.0,180.0 C352.5,181.7 361.7,185.0 365.0,186.0"/>
<path d="M168.1,173.1 L180.6,180.9"/>
<path d="M215.0,157.5 L227.5,163.8"/>
<path d="M208.8,175.5 C211.4,176.2 218.9,179.8 224.4,179.4 C229.9,179.0 238.7,174.2 241.6,173.1"/>
<path d="M224.4,179.4 L224.4,185.6"/>
<path d="M246.3,157.5 L252.5,164.5"/>
<path d="M266.6,179.4 C267.6,177.8 270.7,172.1 272.8,170.0 C274.9,167.9 278.0,167.4 279.0,166.9"/>
<path d="M277.5,152.8 C279.6,153.6 286.2,156.7 290.0,157.5 C293.8,158.3 298.3,157.5 300.0,157.5"/>
<path d="M286.9,166.9 L293.1,159.1"/>
<path d="M249.4,189.5 C252.8,189.6 266.1,189.4 269.7,190.3 C273.3,191.2 271.0,194.2 271.3,195.0"/>
<path d="M207.2,201.3 L213.4,210.6"/>
<path d="M175.9,216.9 L180.6,209.1"/>
<path d="M146.3,205.9 C147.9,205.1 153.3,201.0 155.6,201.3 C157.9,201.6 159.5,206.5 160.3,207.5"/>
<path d="M154.1,196.6 L155.6,201.3"/>
<path d="M300.0,160.0 C302.5,159.7 310.0,157.7 315.0,158.0 C320.0,158.3 325.0,161.7 330.0,162.0 C335.0,162.3 340.0,159.3 345.0,160.0 C350.0,160.7 357.5,165.0 360.0,166.0"/>
<path d="M310.0,185.0 C312.5,185.8 320.0,189.5 325.0,190.0 C330.0,190.5 337.5,188.3 340.0,188.0"/>
<path d="M152.5,126.3 C154.3,126.0 161.8,123.7 163.4,124.7 C165.0,125.7 161.1,127.8 161.9,132.5 C162.7,137.2 167.1,149.4 168.1,152.8"/>
<path d="M140.0,151.3 C141.3,153.9 145.2,162.2 147.8,166.9 C150.4,171.6 154.3,177.3 155.6,179.4"/>
<path d="M197.8,151.3 L198.6,160.6"/>
<path d="M241.6,120.0 L243.1,127.8"/>
<path d="M246.3,132.5 L255.6,143.4"/>
<path d="M265.0,124.7 C267.6,125.0 277.0,127.1 280.6,126.3 C284.2,125.5 285.8,121.0 286.9,120.0"/>
<path d="M280.6,126.3 L279.0,135.6"/>
<path d="M50.5,119.7 C53.1,118.8 60.7,115.6 66.2,114.4 C71.7,113.2 79.8,111.8 83.6,112.7 C87.4,113.6 87.4,117.7 88.9,119.7 C90.4,121.7 88.9,123.5 92.4,124.9 C95.9,126.4 104.6,127.2 109.8,128.4 C115.0,129.6 119.7,131.6 123.8,131.9 C127.9,132.2 132.5,130.4 134.2,130.1"/>
<path d="M66.2,131.9 L66.2,147.6"/>
<path d="M48.7,147.6 C51.6,147.9 60.4,150.2 66.2,149.3 C72.0,148.4 78.7,144.1 83.6,142.4 C88.5,140.7 92.3,138.3 95.8,138.9 C99.3,139.5 103.0,141.7 104.6,145.8 C106.2,149.9 105.4,157.5 105.4,163.3 C105.4,169.1 104.7,177.9 104.6,180.8"/>
<path d="M66.2,161.6 C69.4,160.7 81.3,158.9 85.4,156.3 C89.5,153.7 89.7,147.6 90.6,145.8"/>
<path d="M85.4,156.3 C85.7,158.1 85.1,164.3 87.1,166.8 C89.1,169.3 95.8,170.5 97.6,171.2"/>
<path d="M109.8,137.1 C111.5,138.6 118.3,142.0 120.3,145.8 C122.3,149.6 121.1,155.4 122.0,159.8 C122.9,164.2 124.9,167.9 125.5,172.0 C126.1,176.1 125.5,182.2 125.5,184.2"/>
<path d="M120.3,145.8 C122.3,144.9 129.3,141.2 132.5,140.6 C135.7,140.0 138.3,142.1 139.5,142.4"/>
<path d="M122.0,159.8 C123.8,160.4 129.9,163.0 132.5,163.3 C135.1,163.6 136.8,161.9 137.7,161.6"/>
<path d="M139.5,142.4 C139.8,144.7 139.8,152.2 141.2,156.3 C142.6,160.4 145.9,163.0 148.2,166.8 C150.5,170.6 154.0,177.0 155.2,179.0"/>
<path d="M136.0,121.4 C136.6,119.7 137.8,113.2 139.5,110.9 C141.2,108.6 143.9,107.8 146.5,107.5 C149.1,107.2 152.6,108.0 155.2,109.2 C157.8,110.4 160.4,111.8 162.2,114.4 C163.9,117.0 164.5,118.8 165.7,124.9 C166.8,131.0 168.5,146.7 169.1,151.1"/>
<path d="M153.4,126.6 C154.9,126.3 160.1,124.0 162.2,124.9 C164.2,125.8 165.1,130.7 165.7,131.9"/>
<path d="M108.1,112.7 L122.0,114.4"/>
<path d="M55.0,165.0 C57.5,166.2 65.0,170.2 70.0,172.0 C75.0,173.8 82.5,175.3 85.0,176.0"/>
  </g>
  <path d="M226,9 C250,10 270,13 290,21 C315,31 335,45 350,64 C365,82 376,102 380,124 C384,145 384,165 378,180 C373,190 365,196 355,198 C330,195 300,193 275,196 C258,199 248,206 240,213 C228,219 210,226 190,227 C170,227 152,220 144,210 C139,202 139,193 140,187 C125,187 105,186 92,183 C75,179 60,170 50,156 C43,144 42,125 45,108 C49,90 58,74 72,60 C86,46 104,33 128,24 C155,14 190,8 226,9 Z" fill="none" stroke="#5e574d" stroke-width="2"/>
  <path d="M140,188 C142,176 150,167 160,161 C175,155 195,150 216,143 C232,137 246,132 256,126 C268,118 276,108 280,98 C283,90 283,84 282,79" fill="none" stroke="#5e574d" stroke-width="2.4"/>
</g>
<!-- Motor cortex arrow -->
<path d="M359,76.5 C366,68 374,61 382,59 C389,57.5 395,59 400,63 C407,70 412,79 418,88 C423,95 428,100 436,101 C444,101.5 452,96 460,90 L462,86.5 C456,86 450,84 450,80 C450,77 453,76.5 456,76.3 L496,73.5 C499,73.3 500,75 499,77 L482,112 C480,116 476,116 475,113 L473,100 C466,104 458,109 448,112 C440,114.5 430,114 422,108 C414,102 408,93 402,84 C397,77 393,70 388,67.5 C383,65.5 376,67 370,71 C366,73.5 363,76 361,78 Z" fill="#474747"/>
<!-- ===== CORONAL SECTION ===== -->
<defs>
  <path id="corOut" d="M 689,19.0 C 700,12.0 712,10.0 725,11.0 C 745,12.0 762,18.0 772,26.0 L 776,32.0 C 785,30.0 798,31.0 810,37.0 C 822,43.0 830,50.0 836,59.0 L 846,66.0 C 858,74.0 870,88.0 878,103.0 C 884,114.0 887,122.0 888,131.0 L 892,135.0 C 902,145.0 909,158.0 913,172.0 C 917,188.0 917,205.0 917,220.0 C 918,240.0 919,258.0 918,272.0 C 917,283.0 916,290.0 914,296.0 L 910,305.0 C 906,320.0 900,335.0 893,341.6 C 887,348.0 878,358.0 870,370.0 C 862,380.0 852,386.0 842,388.0 C 832,391.0 824,392.0 817,392.0 C 806,393.0 798,391.0 790,389.0 C 780,386.0 770,382.0 764,377.0 C 756,370.0 750,362.0 746,352.0 C 742,344.0 741,335.0 741,323.0 C 732,321.0 724,324.0 717,327.0 C 710,329.0 704,331.0 700,331.0 C 696,330.0 692,328.0 690,326.0 C 687,328.0 683,331.0 679,331.0 C 672,330.0 668,328.0 664,327.0 C 656,325.0 650,323.0 643,322.0 C 643,335.0 643,345.0 642,349.0 C 640,358.0 637,365.0 632,376.0 C 627,384.0 620,389.0 612,391.0 C 600,393.0 590,393.0 584,392.0 C 576,392.0 568,393.0 560,393.0 C 550,391.0 542,388.0 535,384.0 C 526,380.0 520,376.0 516,371.0 C 511,364.0 508,358.0 505,352.0 C 500,345.2 497,342.8 494,339.8 C 488,334.0 484,327.0 481,319.0 C 477,310.0 474,302.0 472,294.0 C 469,284.0 467,274.0 466,262.0 C 465,250.0 465,240.0 465,225.0 C 465,210.0 465,195.0 466,178.0 C 467,165.0 469,156.0 473,148.0 C 476,142.0 478,138.0 481,136.0 L 494,130.0 C 494,122.0 496,114.0 500,104.0 C 505,92.0 512,82.0 520,74.0 C 526,68.0 532,64.0 540,61.0 L 545,54.0 C 552,46.0 560,40.0 570,36.0 C 580,32.0 590,31.0 603,31.0 L 609,22.0 C 618,16.0 628,13.0 640,12.0 C 655,10.0 670,11.0 680,14.0 Z"/>
  <clipPath id="corClip"><use href="#corOut"/></clipPath>
  <clipPath id="redClip"><path d="M692,0 L1024,0 L1024,210 L846,213 L843,200 L822,168 L800,150 L760,135 L725,108 L692,112 Z"/></clipPath>
</defs>
<g fill="none" stroke="#2b2020" stroke-width="1.5" opacity="0.55"><use href="#corOut" transform="translate(3,13)"/><use href="#corOut"/></g>
<use href="#corOut" transform="translate(3,13)" fill="#828180"/>
<use href="#corOut" transform="translate(0,8)" fill="#ada18b"/>
<use href="#corOut" fill="#e7dfc9"/>
<g clip-path="url(#corClip)">
  <use href="#corOut" fill="none" stroke="#cbbfa6" stroke-width="30"/>
  <use href="#corOut" fill="none" stroke="#df7474" stroke-width="30" clip-path="url(#redClip)"/>
  <path d="M643,322 C660,330 680,337 690,337 C700,337 720,330 741,322 L741,345 L643,345 Z" fill="#b9ad97"/>
  <use href="#corOut" fill="none" stroke="#a79c86" stroke-width="3"/>
</g>
<!-- sulci -->
<g fill="none" stroke-linecap="round" stroke-linejoin="round" clip-path="url(#corClip)">
 <g stroke="#cbbfa6" stroke-width="19">
  <path d="M605,28 L632,85"/>
  <path d="M542,58 L577,97 M555,80 L556,95"/>
  <path d="M492,128 L546,151"/>
  <path d="M571,185 C562,200 550,212 544,225 C539,240 538,255 538,268"/>
  <path d="M468,211 L542,220 M508,196 L510,211 L503,218 L495,238"/>
  <path d="M468,293 L545,294 M506,274 L505,294"/>
  <path d="M503,360 L535,330"/>
  <path d="M565,398 L567,343"/>
  <path d="M628,362 L605,344"/>
  <path d="M689,18 L689,125"/>
  <path d="M651,54 L689,54 M675,92 L689,92"/>
  <path d="M657,121 C670,126 680,127 689,127 C700,127 710,126 720,122"/>
  <path d="M806,185 C815,195 830,210 836,226 C839,240 840,255 840,268"/>
  <path d="M838,216 L914,211 M869,196 L871,214 L882,238"/>
  <path d="M832,294 L914,292 M871,274 L877,294"/>
  <path d="M752,362 L775,343"/>
  <path d="M810,342 L815,398"/>
  <path d="M845,330 L880,356"/>
</g>
 <g stroke="#df7474" stroke-width="19" clip-path="url(#redClip)">
  <path d="M605,28 L632,85"/>
  <path d="M542,58 L577,97 M555,80 L556,95"/>
  <path d="M492,128 L546,151"/>
  <path d="M571,185 C562,200 550,212 544,225 C539,240 538,255 538,268"/>
  <path d="M468,211 L542,220 M508,196 L510,211 L503,218 L495,238"/>
  <path d="M468,293 L545,294 M506,274 L505,294"/>
  <path d="M503,360 L535,330"/>
  <path d="M565,398 L567,343"/>
  <path d="M628,362 L605,344"/>
  <path d="M689,18 L689,125"/>
  <path d="M651,54 L689,54 M675,92 L689,92"/>
  <path d="M657,121 C670,126 680,127 689,127 C700,127 710,126 720,122"/>
  <path d="M806,185 C815,195 830,210 836,226 C839,240 840,255 840,268"/>
  <path d="M838,216 L914,211 M869,196 L871,214 L882,238"/>
  <path d="M832,294 L914,292 M871,274 L877,294"/>
  <path d="M752,362 L775,343"/>
  <path d="M810,342 L815,398"/>
  <path d="M845,330 L880,356"/>

  <path d="M777,29 L744,85"/>
  <path d="M840,58 L800,97 M820,80 L820,95"/>
  <path d="M891,128 L830,150"/>
  <path d="M689,54 L735,54 M689,92 L705,92"/>
</g>
 <g stroke="#858585" stroke-width="7">
  <path d="M605,28 L632,85"/>
  <path d="M542,58 L577,97 M555,80 L556,95"/>
  <path d="M492,128 L546,151"/>
  <path d="M571,185 C562,200 550,212 544,225 C539,240 538,255 538,268"/>
  <path d="M468,211 L542,220 M508,196 L510,211 L503,218 L495,238"/>
  <path d="M468,293 L545,294 M506,274 L505,294"/>
  <path d="M503,360 L535,330"/>
  <path d="M565,398 L567,343"/>
  <path d="M628,362 L605,344"/>
  <path d="M689,18 L689,125"/>
  <path d="M651,54 L689,54 M675,92 L689,92"/>
  <path d="M657,121 C670,126 680,127 689,127 C700,127 710,126 720,122"/>
  <path d="M806,185 C815,195 830,210 836,226 C839,240 840,255 840,268"/>
  <path d="M838,216 L914,211 M869,196 L871,214 L882,238"/>
  <path d="M832,294 L914,292 M871,274 L877,294"/>
  <path d="M752,362 L775,343"/>
  <path d="M810,342 L815,398"/>
  <path d="M845,330 L880,356"/>

  <path d="M777,29 L744,85"/>
  <path d="M840,58 L800,97 M820,80 L820,95"/>
  <path d="M891,128 L830,150"/>
  <path d="M689,54 L735,54 M689,92 L705,92"/>
</g>
</g>
<!-- fibers (light green lines) -->
<g fill="none" stroke="#bcd8c4" stroke-width="0.8">
  <path d="M587,118 C620,125 660,132 689,140 C720,132 760,125 792,118"/>
  <path d="M584,128 C620,133 660,140 689,148 C720,140 760,133 795,128"/>
  <path d="M584,137 C620,141 660,146 689,154 C720,146 760,141 795,137"/>
  <path d="M585,148 C620,148 660,152 689,160 C720,152 760,148 795,148"/>
</g>
<path d="M689,130 L689,165" stroke="#cfc6ae" stroke-width="0.8"/>
<!-- central structures -->
<ellipse cx="689" cy="220" rx="56" ry="43" fill="#e7dfc9" stroke="#b4a993" stroke-width="1.5"/>
<path d="M652,181 C640,188 635,203 635,220 C635,238 645,252 676,258 C668,248 664,235 663,220 C662,205 666,192 672,186 C665,184 658,182 652,181 Z" fill="#afa48f"/>
<path d="M726,181 C738,188 743,203 743,220 C743,238 733,252 702,258 C710,248 714,235 715,220 C716,205 712,192 706,186 C713,184 720,182 726,181 Z" fill="#afa48f"/>
<circle cx="689" cy="211" r="26" fill="#afa48f" stroke="#e7dfc9" stroke-width="2"/>
<ellipse cx="663" cy="184" rx="8.5" ry="5" fill="#afa48f" stroke="#e7dfc9" stroke-width="1.5"/>
<ellipse cx="715" cy="184" rx="8.5" ry="5" fill="#afa48f" stroke="#e7dfc9" stroke-width="1.5"/>
<ellipse cx="675" cy="243" rx="6.5" ry="7" fill="#afa48f" stroke="#e7dfc9" stroke-width="1.5"/>
<ellipse cx="703" cy="243" rx="6.5" ry="7" fill="#afa48f" stroke="#e7dfc9" stroke-width="1.5"/>
<path d="M627,146 C650,146 675,152 688,160 C701,152 726,146 750,146 C756,146 756,154 751,155 C735,157 710,162 689,172 C668,162 645,157 628,155 C622,154 622,146 627,146 Z" fill="#b1a591"/>
<path d="M641,156 C660,158 676,165 688,173 C700,165 716,158 737,156 C732,163 728,170 722,175 C712,180 700,183 689,186 C678,183 668,180 658,175 C650,170 645,163 641,156 Z" fill="#ffffff"/>
<path d="M629,160 C633,155 642,157 646,162 C650,167 650,172 647,175 C643,176 640,172 636,168 C632,165 626,164 629,160 Z" fill="#afa48f"/>
<path d="M749,160 C745,155 736,157 732,162 C728,167 728,172 731,175 C735,176 738,172 742,168 C746,165 752,164 749,160 Z" fill="#afa48f"/>
<path d="M679,184 L699,184 L694,196 L684,196 Z" fill="#b1a591"/>
<path d="M672,175 C678,174 684,176 688,178 C692,176 700,174 706,175 C703,180 696,185 689,187 C682,185 675,180 672,175 Z" fill="#fde0a0"/>
<rect x="687.5" y="163" width="3" height="20" fill="#fde0a0"/>
<path d="M684,195 L694,195 C694,230 693,270 692,298 C691,305 687,305 686,298 C685,270 684,230 684,195 Z" fill="#ffffff" stroke="#d8cfb8" stroke-width="0.8"/>
<ellipse cx="665" cy="274" rx="12" ry="8" fill="#afa48f" transform="rotate(25 665 274)"/>
<ellipse cx="713" cy="274" rx="12" ry="8" fill="#afa48f" transform="rotate(-25 713 274)"/>
<path d="M655,287 L674,296" stroke="#c08c98" stroke-width="5" stroke-linecap="round"/>
<path d="M723,287 L704,296" stroke="#c08c98" stroke-width="5" stroke-linecap="round"/>
<ellipse cx="674" cy="313" rx="12" ry="9" fill="#afa48f" stroke="#e7dfc9" stroke-width="1"/>
<ellipse cx="704" cy="313" rx="12" ry="9" fill="#afa48f" stroke="#e7dfc9" stroke-width="1"/>
<!-- lentiform -->
<path d="M565,270 C570,250 580,228 598,210 C602,230 604,250 602,270 Z" fill="#afa48f"/>
<path d="M586,270 C592,250 598,240 608,228 C612,245 614,258 612,270 Z" fill="#bcb19b"/>
<path d="M605,268 C608,258 612,252 620,246 C622,255 622,262 621,268 Z" fill="#c8bda6"/>
<path d="M814,270 C809,250 799,228 781,210 C777,230 775,250 777,270 Z" fill="#afa48f"/>
<path d="M793,270 C787,250 781,240 771,228 C767,245 765,258 767,270 Z" fill="#bcb19b"/>
<path d="M774,268 C771,258 767,252 759,246 C757,255 757,262 758,268 Z" fill="#c8bda6"/>
<path d="M572,205 C565,225 560,250 555,268" fill="none" stroke="#b4a993" stroke-width="3"/>
<path d="M807,205 C814,225 819,250 824,268" fill="none" stroke="#b4a993" stroke-width="3"/>
<!-- temporal lobe structures -->
<path d="M585,286 C610,283 628,295 636,315 C642,335 638,355 628,368" fill="none" stroke="#cbbfa6" stroke-width="14" clip-path="url(#corClip)"/>
<path d="M794,286 C769,283 751,295 743,315 C737,335 741,355 751,368" fill="none" stroke="#cbbfa6" stroke-width="14" clip-path="url(#corClip)"/>
<ellipse cx="592" cy="303" rx="15" ry="10" fill="#afa48f"/>
<ellipse cx="787" cy="303" rx="15" ry="10" fill="#afa48f"/>
<ellipse cx="560" cy="314" rx="11" ry="8" fill="#afa48f"/>
<ellipse cx="560" cy="318" rx="7" ry="3.5" fill="#ffffff"/>
<ellipse cx="818" cy="314" rx="11" ry="8" fill="#afa48f"/>
<ellipse cx="818" cy="318" rx="7" ry="3.5" fill="#ffffff"/>
<ellipse cx="618" cy="291" rx="10" ry="6" fill="#fbc05a"/>
<ellipse cx="760" cy="291" rx="10" ry="6" fill="#fbc05a"/>
<!-- ===== MEDULLA ===== -->
<defs>
  <linearGradient id="bodyG" x1="0" x2="1" y1="0" y2="0">
    <stop offset="0" stop-color="#cfc19c"/>
    <stop offset="0.2" stop-color="#e2d6b6"/>
    <stop offset="0.45" stop-color="#d2c4a0"/>
    <stop offset="0.55" stop-color="#e4d8b8"/>
    <stop offset="0.8" stop-color="#dccfae"/>
    <stop offset="1" stop-color="#cbbd98"/>
  </linearGradient>
  <path id="medSil" d="M623.8,418 C624,410 627,404 634,400.5 C639,398.5 644,397.6 648.7,397.6 C651,393 658,390 666,389.5 C673,389.3 680,391 684,393.5 C687,395.5 689.5,397 690.4,398.3 C692,395 695,393 698.5,392.5 C703,390 707,389.5 710,389.5 C716,389.5 720,390.5 723.4,391.7 C727,393.5 729.5,396 730.7,398.3 C735,398.3 739,399 742.4,400.5 C748,403 752,407 753.5,410 C755,413 755.6,415 755.6,416.6 L757,439 L756,489 Q751,507 735,510 Q730,516 712,516 Q694,516 690,512 Q686,516 670,516 Q652,516 647,509 Q632,507 629,497 L624,458 Z"/>
  <path id="cordSil" d="M690,621 C700,617 712,617 716,619 C730,619 742,621 746,624 C776,632 795,650 795,667 L795,760 C793,775 775,788 751,797 C745,804 735,806 722,806 C710,806 700,806 695,805 L690,768 L685,805 C680,806 670,806 660,806 C645,806 637,804 631,797 C610,788 595,778 587,760 L586,667 C586,650 605,632 636,624 C648,620 658,618 665,619 C675,617 684,617 690,621 Z"/>
</defs>
<g fill="none" stroke="#2b2020" stroke-width="1.5" opacity="0.55"><use href="#medSil" transform="translate(3,5)"/><use href="#medSil"/></g>
<use href="#medSil" transform="translate(3,5)" fill="#8b8884"/>
<use href="#medSil" fill="url(#bodyG)"/>
<path d="M623.8,418 C624,410 627,404 634,400.5 C639,398.5 644,397.6 648.7,397.6 C651,393 658,390 666,389.5 C673,389.3 680,391 684,393.5 C687,395.5 689.5,397 690.4,398.3 C692,395 695,393 698.5,392.5 C703,390 707,389.5 710,389.5 C716,389.5 720,390.5 723.4,391.7 C727,393.5 729.5,396 730.7,398.3 C735,398.3 739,399 742.4,400.5 C748,403 752,407 753.5,410 C755,413 755.6,415 755.6,416.6 L756,439 L755,462 C750,475 740,481 717,485 C705,486 695,486 690,489 C685,486 675,486 659,485 C640,482 628,470 624.5,458 Z" fill="#e8e1cc"/>
<path d="M648,486 C649,496 648,503 647,509 M690,489 L690,512 M734,482 C734,495 735,503 735,510" fill="none" stroke="#c2b48e" stroke-width="1.2"/>
<ellipse cx="670" cy="478" rx="16.5" ry="9" fill="#c9c0a9"/>
<ellipse cx="710" cy="478" rx="16.5" ry="9" fill="#c9c0a9"/>

<!-- ===== SPINAL CORD ===== -->
<g fill="none" stroke="#2b2020" stroke-width="1.5" opacity="0.55"><use href="#cordSil" transform="translate(3,6)"/><use href="#cordSil"/></g>
<use href="#cordSil" transform="translate(3,6)" fill="#8b8884"/>
<use href="#cordSil" fill="url(#bodyG)"/>
<!-- ===== NERVES ===== -->
<defs><clipPath id="nerveClip"><path d="M385,691 C410,689 428,688 440,686 C455,683 465,672 480,664 C492,658 505,656 517,655.6 C525,655 535,654 545,649 C555,642 570,630 590,624 C605,620 620,619 640,620 L640,681 L548,680.6 C540,682 535,690 520,697 C540,699 565,700 587,702.5 C600,705 615,710 631,716 L631,796 C618,791 605,786 596,781 C585,774 575,766 568,760 C560,753 550,747 540,743 C525,740 515,736 509,735 C495,732 480,730 470,729 L435,727.5 L385,725.2 Z"/></clipPath></defs><defs><clipPath id="nclipL"><rect x="0" y="0" width="630" height="860"/></clipPath><clipPath id="nclipR"><rect x="752" y="0" width="300" height="860"/></clipPath></defs><g fill="none" stroke="#2b2020" stroke-width="1.5" opacity="0.55"><g clip-path="url(#nclipL)"><path d="M385,691 C410,689 428,688 440,686 C455,683 465,672 480,664 C492,658 505,656 517,655.6 C525,655 535,654 545,649 C555,642 570,630 590,624 C605,620 620,619 640,620 L640,681 L548,680.6 C540,682 535,690 520,697 C540,699 565,700 587,702.5 C600,705 615,710 631,716 L631,796 C618,791 605,786 596,781 C585,774 575,766 568,760 C560,753 550,747 540,743 C525,740 515,736 509,735 C495,732 480,730 470,729 L435,727.5 L385,725.2 Z" transform="translate(2,5)"/><path d="M385,691 C410,689 428,688 440,686 C455,683 465,672 480,664 C492,658 505,656 517,655.6 C525,655 535,654 545,649 C555,642 570,630 590,624 C605,620 620,619 640,620 L640,681 L548,680.6 C540,682 535,690 520,697 C540,699 565,700 587,702.5 C600,705 615,710 631,716 L631,796 C618,791 605,786 596,781 C585,774 575,766 568,760 C560,753 550,747 540,743 C525,740 515,736 509,735 C495,732 480,730 470,729 L435,727.5 L385,725.2 Z"/></g><g clip-path="url(#nclipR)"><g transform="translate(2,5)"><path d="M385,691 C410,689 428,688 440,686 C455,683 465,672 480,664 C492,658 505,656 517,655.6 C525,655 535,654 545,649 C555,642 570,630 590,624 C605,620 620,619 640,620 L640,681 L548,680.6 C540,682 535,690 520,697 C540,699 565,700 587,702.5 C600,705 615,710 631,716 L631,796 C618,791 605,786 596,781 C585,774 575,766 568,760 C560,753 550,747 540,743 C525,740 515,736 509,735 C495,732 480,730 470,729 L435,727.5 L385,725.2 Z" transform="translate(1382,0) scale(-1,1)"/></g><path d="M385,691 C410,689 428,688 440,686 C455,683 465,672 480,664 C492,658 505,656 517,655.6 C525,655 535,654 545,649 C555,642 570,630 590,624 C605,620 620,619 640,620 L640,681 L548,680.6 C540,682 535,690 520,697 C540,699 565,700 587,702.5 C600,705 615,710 631,716 L631,796 C618,791 605,786 596,781 C585,774 575,766 568,760 C560,753 550,747 540,743 C525,740 515,736 509,735 C495,732 480,730 470,729 L435,727.5 L385,725.2 Z" transform="translate(1382,0) scale(-1,1)"/></g></g><g clip-path="url(#nclipL)"><path d="M385,691 C410,689 428,688 440,686 C455,683 465,672 480,664 C492,658 505,656 517,655.6 C525,655 535,654 545,649 C555,642 570,630 590,624 C605,620 620,619 640,620 L640,681 L548,680.6 C540,682 535,690 520,697 C540,699 565,700 587,702.5 C600,705 615,710 631,716 L631,796 C618,791 605,786 596,781 C585,774 575,766 568,760 C560,753 550,747 540,743 C525,740 515,736 509,735 C495,732 480,730 470,729 L435,727.5 L385,725.2 Z" fill="#7d7b7a" transform="translate(2,5)"/></g><g clip-path="url(#nclipR)"><g transform="translate(2,5)"><path d="M385,691 C410,689 428,688 440,686 C455,683 465,672 480,664 C492,658 505,656 517,655.6 C525,655 535,654 545,649 C555,642 570,630 590,624 C605,620 620,619 640,620 L640,681 L548,680.6 C540,682 535,690 520,697 C540,699 565,700 587,702.5 C600,705 615,710 631,716 L631,796 C618,791 605,786 596,781 C585,774 575,766 568,760 C560,753 550,747 540,743 C525,740 515,736 509,735 C495,732 480,730 470,729 L435,727.5 L385,725.2 Z" fill="#7d7b7a" transform="translate(1382,0) scale(-1,1)"/></g></g><g>
  <path d="M385,691 C410,689 428,688 440,686 C455,683 465,672 480,664 C492,658 505,656 517,655.6 C525,655 535,654 545,649 C555,642 570,630 590,624 C605,620 620,619 640,620 L640,681 L548,680.6 C540,682 535,690 520,697 C540,699 565,700 587,702.5 C600,705 615,710 631,716 L631,796 C618,791 605,786 596,781 C585,774 575,766 568,760 C560,753 550,747 540,743 C525,740 515,736 509,735 C495,732 480,730 470,729 L435,727.5 L385,725.2 Z" fill="#ff9a9a"/>
  <g fill="none" stroke-linecap="round" clip-path="url(#nerveClip)">
<g stroke="#8a7c7c" stroke-width="1.4">
<path d="M548,646 Q572.0,643.0 596,636"/>
<path d="M556,656 Q576.0,655.0 596,650"/>
<path d="M560,666 Q578.0,667.0 596,664"/>
<path d="M540,652 Q557.5,649.0 575,642"/>
<path d="M566,675 Q581.0,677.5 596,676"/>
</g>
<g stroke="#877c7c" stroke-width="1.15">
<path d="M553,717.0 C568,720.0 588,723.0 600,729.5"/>
<path d="M556,722.8 C568,725.8 588,733.3 600,739.8"/>
<path d="M559,728.6 C568,731.6 588,743.6 600,750.1"/>
<path d="M562,734.4 C568,737.4 588,753.9 600,760.4"/>
<path d="M565,740.2 C568,743.2 588,764.2 600,770.7"/>
<path d="M568,746.0 C568,749.0 588,774.5 600,781.0"/>
<path d="M571,751.8 C568,754.8 588,784.8 600,791.3"/>
</g>
<g stroke="#dccfad" stroke-width="2">
<path d="M599,729.2 Q615,732.0 631,733.0"/>
<path d="M599,739.5 Q615,742.3 631,743.3"/>
<path d="M599,749.8000000000001 Q615,752.6 631,753.6"/>
<path d="M599,760.1 Q615,762.9 631,763.9"/>
<path d="M599,770.4000000000001 Q615,773.2 631,774.2"/>
<path d="M599,780.7 Q615,783.5 631,784.5"/>
<path d="M599,791.0 Q615,793.8 631,794.8"/>
</g>
<g stroke="#e27a7a" stroke-width="0.9" opacity="0.8">
<path d="M598,734.0 Q614,736.8 630,738.0"/>
<path d="M598,744.3 Q614,747.0999999999999 630,748.3"/>
<path d="M598,754.6 Q614,757.4 630,758.6"/>
<path d="M598,764.9 Q614,767.6999999999999 630,768.9"/>
<path d="M598,775.2 Q614,778.0 630,779.2"/>
<path d="M598,785.5 Q614,788.3 630,789.5"/>
<path d="M598,795.8 Q614,798.5999999999999 630,799.8"/>
</g>
</g>
  <ellipse cx="386.5" cy="712.5" rx="12" ry="17" fill="#7d7b7a"/>
  <ellipse cx="384.5" cy="708.2" rx="12" ry="17" fill="#fb8282"/>
  <ellipse cx="384.8" cy="708.6" rx="6" ry="10" fill="#ffc8ca"/>
</g><g transform="translate(1382,0) scale(-1,1)">
  <path d="M385,691 C410,689 428,688 440,686 C455,683 465,672 480,664 C492,658 505,656 517,655.6 C525,655 535,654 545,649 C555,642 570,630 590,624 C605,620 620,619 640,620 L640,681 L548,680.6 C540,682 535,690 520,697 C540,699 565,700 587,702.5 C600,705 615,710 631,716 L631,796 C618,791 605,786 596,781 C585,774 575,766 568,760 C560,753 550,747 540,743 C525,740 515,736 509,735 C495,732 480,730 470,729 L435,727.5 L385,725.2 Z" fill="#ff9a9a"/>
  <g fill="none" stroke-linecap="round" clip-path="url(#nerveClip)">
<g stroke="#8a7c7c" stroke-width="1.4">
<path d="M548,646 Q572.0,643.0 596,636"/>
<path d="M556,656 Q576.0,655.0 596,650"/>
<path d="M560,666 Q578.0,667.0 596,664"/>
<path d="M540,652 Q557.5,649.0 575,642"/>
<path d="M566,675 Q581.0,677.5 596,676"/>
</g>
<g stroke="#877c7c" stroke-width="1.15">
<path d="M553,717.0 C568,720.0 588,723.0 600,729.5"/>
<path d="M556,722.8 C568,725.8 588,733.3 600,739.8"/>
<path d="M559,728.6 C568,731.6 588,743.6 600,750.1"/>
<path d="M562,734.4 C568,737.4 588,753.9 600,760.4"/>
<path d="M565,740.2 C568,743.2 588,764.2 600,770.7"/>
<path d="M568,746.0 C568,749.0 588,774.5 600,781.0"/>
<path d="M571,751.8 C568,754.8 588,784.8 600,791.3"/>
</g>
<g stroke="#dccfad" stroke-width="2">
<path d="M599,729.2 Q615,732.0 631,733.0"/>
<path d="M599,739.5 Q615,742.3 631,743.3"/>
<path d="M599,749.8000000000001 Q615,752.6 631,753.6"/>
<path d="M599,760.1 Q615,762.9 631,763.9"/>
<path d="M599,770.4000000000001 Q615,773.2 631,774.2"/>
<path d="M599,780.7 Q615,783.5 631,784.5"/>
<path d="M599,791.0 Q615,793.8 631,794.8"/>
</g>
<g stroke="#e27a7a" stroke-width="0.9" opacity="0.8">
<path d="M598,734.0 Q614,736.8 630,738.0"/>
<path d="M598,744.3 Q614,747.0999999999999 630,748.3"/>
<path d="M598,754.6 Q614,757.4 630,758.6"/>
<path d="M598,764.9 Q614,767.6999999999999 630,768.9"/>
<path d="M598,775.2 Q614,778.0 630,779.2"/>
<path d="M598,785.5 Q614,788.3 630,789.5"/>
<path d="M598,795.8 Q614,798.5999999999999 630,799.8"/>
</g>
</g>
  <ellipse cx="383" cy="712.5" rx="12" ry="17" fill="#7d7b7a"/>
  <ellipse cx="384.5" cy="708.2" rx="12" ry="17" fill="#fb8282"/>
  <ellipse cx="384.8" cy="708.6" rx="6" ry="10" fill="#ffc8ca"/>
</g>

<path d="M690,621 C700,617 712,617 716,619 C730,619 742,621 746,624 C776,632 795,650 795,667 C795,690 780,715 751,722 C730,727 710,728 695,727 L690,722 L685,727 C670,728 650,727 630,722 C600,715 586,690 586,667 C586,650 605,632 636,624 C648,620 658,618 665,619 C675,617 684,617 690,621 Z" fill="#e8e1cc"/>
<path d="M690,623 L690,690 M666,621 C668,630 668,640 667,645 M715,621 C713,630 712,640 713,645" stroke="#cfc6ae" stroke-width="1" fill="none"/>
<!-- gray matter H -->
<path id="grayH" d="M633,631 C640,628 648,630 652,636 C656,645 657,655 662,661 C666,665 672,666 680,666 L700,666 C708,666 714,665 718,661 C723,655 724,645 728,636 C732,630 740,628 747,631 C750,640 748,650 750,660 C752,670 756,676 760,682 C762,690 759,696 752,700 C746,704 740,705 736,700 C730,694 726,688 716,684 C708,682 700,682 690,682 C680,682 672,682 665,686 C660,692 655,698 648,699 C640,700 630,698 624,692 C619,686 622,681 630,677 C638,672 642,666 641,656 C640,646 634,638 633,631 Z" fill="#aca38e" transform="translate(0,2.5)"/>
<path d="M633,631 C640,628 648,630 652,636 C656,645 657,655 662,661 C666,665 672,666 680,666 L700,666 C708,666 714,665 718,661 C723,655 724,645 728,636 C732,630 740,628 747,631 C750,640 748,650 750,660 C752,670 756,676 760,682 C762,690 759,696 752,700 C746,704 740,705 736,700 C730,694 726,688 716,684 C708,682 700,682 690,682 C680,682 672,682 665,686 C660,692 655,698 648,699 C640,700 630,698 624,692 C619,686 622,681 630,677 C638,672 642,666 641,656 C640,646 634,638 633,631 Z" fill="#cac1aa"/>
<path d="M633,631 L628,626 M747,631 L752,626" stroke="#cac1aa" stroke-width="2"/>
<ellipse cx="690" cy="674" rx="6" ry="3.8" fill="#e8e1cc" stroke="#aca38e" stroke-width="1.2"/>
<path d="M690,684 C688,700 688,716 690,724 C692,716 692,700 690,684 Z" fill="#b9b09a"/>
<!-- ===== MUSCLE FIBERS ===== -->
<rect x="62.5" y="413.5" width="179.5" height="29.5" rx="7.9" ry="14.75" fill="#363636"/>
<rect x="59.5" y="410.5" width="179.5" height="29.5" rx="7.9" ry="14.75" fill="#ffc4c4"/>
<clipPath id="fc410"><rect x="59.5" y="410.5" width="179.5" height="29.5" rx="7.9" ry="14.75"/></clipPath>
<g clip-path="url(#fc410)">
<path d="M67.9,410.5 A7.9,14.75 0 0 1 67.9,440.0 L85.7,440.0 A7.9,14.75 0 0 0 85.7,410.5 Z" fill="#cc6666"/>
<path d="M95.1,410.5 A7.9,14.75 0 0 1 95.1,440.0" fill="none" stroke="#f6b9b9" stroke-width="0.9"/>
<path d="M104.5,410.5 A7.9,14.75 0 0 1 104.5,440.0 L122.3,440.0 A7.9,14.75 0 0 0 122.3,410.5 Z" fill="#cc6666"/>
<path d="M131.7,410.5 A7.9,14.75 0 0 1 131.7,440.0" fill="none" stroke="#f6b9b9" stroke-width="0.9"/>
<path d="M141.1,410.5 A7.9,14.75 0 0 1 141.1,440.0 L158.9,440.0 A7.9,14.75 0 0 0 158.9,410.5 Z" fill="#cc6666"/>
<path d="M168.3,410.5 A7.9,14.75 0 0 1 168.3,440.0" fill="none" stroke="#f6b9b9" stroke-width="0.9"/>
<path d="M177.7,410.5 A7.9,14.75 0 0 1 177.7,440.0 L195.5,440.0 A7.9,14.75 0 0 0 195.5,410.5 Z" fill="#cc6666"/>
<path d="M204.9,410.5 A7.9,14.75 0 0 1 204.9,440.0" fill="none" stroke="#f6b9b9" stroke-width="0.9"/>
<path d="M214.3,410.5 A7.9,14.75 0 0 1 214.3,440.0 L232.1,440.0 A7.9,14.75 0 0 0 232.1,410.5 Z" fill="#cc6666"/>
<path d="M241.5,410.5 A7.9,14.75 0 0 1 241.5,440.0" fill="none" stroke="#f6b9b9" stroke-width="0.9"/>
</g>
<ellipse cx="67.4" cy="425.25" rx="7.9" ry="14.75" fill="#ffc4c4"/><rect x="74" y="449" width="179" height="29.5" rx="7.9" ry="14.75" fill="#363636"/>
<rect x="71" y="446" width="179" height="29.5" rx="7.9" ry="14.75" fill="#ffc4c4"/>
<clipPath id="fc446"><rect x="71" y="446" width="179" height="29.5" rx="7.9" ry="14.75"/></clipPath>
<g clip-path="url(#fc446)">
<path d="M82.0,446 A7.9,14.75 0 0 1 82.0,475.5 L99.8,475.5 A7.9,14.75 0 0 0 99.8,446 Z" fill="#cc6666"/>
<path d="M109.2,446 A7.9,14.75 0 0 1 109.2,475.5" fill="none" stroke="#f6b9b9" stroke-width="0.9"/>
<path d="M118.6,446 A7.9,14.75 0 0 1 118.6,475.5 L136.4,475.5 A7.9,14.75 0 0 0 136.4,446 Z" fill="#cc6666"/>
<path d="M145.8,446 A7.9,14.75 0 0 1 145.8,475.5" fill="none" stroke="#f6b9b9" stroke-width="0.9"/>
<path d="M155.2,446 A7.9,14.75 0 0 1 155.2,475.5 L173.0,475.5 A7.9,14.75 0 0 0 173.0,446 Z" fill="#cc6666"/>
<path d="M182.4,446 A7.9,14.75 0 0 1 182.4,475.5" fill="none" stroke="#f6b9b9" stroke-width="0.9"/>
<path d="M191.8,446 A7.9,14.75 0 0 1 191.8,475.5 L209.6,475.5 A7.9,14.75 0 0 0 209.6,446 Z" fill="#cc6666"/>
<path d="M219.0,446 A7.9,14.75 0 0 1 219.0,475.5" fill="none" stroke="#f6b9b9" stroke-width="0.9"/>
<path d="M228.4,446 A7.9,14.75 0 0 1 228.4,475.5 L246.2,475.5 A7.9,14.75 0 0 0 246.2,446 Z" fill="#cc6666"/>
<path d="M255.6,446 A7.9,14.75 0 0 1 255.6,475.5" fill="none" stroke="#f6b9b9" stroke-width="0.9"/>
</g>
<ellipse cx="78.9" cy="460.75" rx="7.9" ry="14.75" fill="#ffc4c4"/><rect x="62.5" y="485" width="179.5" height="29.5" rx="7.9" ry="14.75" fill="#363636"/>
<rect x="59.5" y="482" width="179.5" height="29.5" rx="7.9" ry="14.75" fill="#ffc4c4"/>
<clipPath id="fc482"><rect x="59.5" y="482" width="179.5" height="29.5" rx="7.9" ry="14.75"/></clipPath>
<g clip-path="url(#fc482)">
<path d="M67.9,482 A7.9,14.75 0 0 1 67.9,511.5 L85.7,511.5 A7.9,14.75 0 0 0 85.7,482 Z" fill="#cc6666"/>
<path d="M95.1,482 A7.9,14.75 0 0 1 95.1,511.5" fill="none" stroke="#f6b9b9" stroke-width="0.9"/>
<path d="M104.5,482 A7.9,14.75 0 0 1 104.5,511.5 L122.3,511.5 A7.9,14.75 0 0 0 122.3,482 Z" fill="#cc6666"/>
<path d="M131.7,482 A7.9,14.75 0 0 1 131.7,511.5" fill="none" stroke="#f6b9b9" stroke-width="0.9"/>
<path d="M141.1,482 A7.9,14.75 0 0 1 141.1,511.5 L158.9,511.5 A7.9,14.75 0 0 0 158.9,482 Z" fill="#cc6666"/>
<path d="M168.3,482 A7.9,14.75 0 0 1 168.3,511.5" fill="none" stroke="#f6b9b9" stroke-width="0.9"/>
<path d="M177.7,482 A7.9,14.75 0 0 1 177.7,511.5 L195.5,511.5 A7.9,14.75 0 0 0 195.5,482 Z" fill="#cc6666"/>
<path d="M204.9,482 A7.9,14.75 0 0 1 204.9,511.5" fill="none" stroke="#f6b9b9" stroke-width="0.9"/>
<path d="M214.3,482 A7.9,14.75 0 0 1 214.3,511.5 L232.1,511.5 A7.9,14.75 0 0 0 232.1,482 Z" fill="#cc6666"/>
<path d="M241.5,482 A7.9,14.75 0 0 1 241.5,511.5" fill="none" stroke="#f6b9b9" stroke-width="0.9"/>
</g>
<ellipse cx="67.4" cy="496.75" rx="7.9" ry="14.75" fill="#ffc4c4"/>
<!-- ===== AXONS ===== -->
<g fill="none" stroke="#9e0000" stroke-linecap="round" stroke-linejoin="round">
  <path d="M155,500 L155,692 C155,702 160,707 170,707 L385,707" stroke-width="8.2"/>
  <path d="M155,502 C155,480 153,462 149,448 C146,440 142,434 138.5,430" stroke-width="5"/>
  <path d="M138.5,430 L136,419 M138.5,430 L146.5,420 M138.5,430 L125.3,433" stroke-width="3"/>
  <path d="M156,497 C159,485 164,478 170,473 C178,466 186,462 195,459" stroke-width="5"/>
  <path d="M195,459 L192.5,449.5 M195,459 L205.5,461.3 M195,459 L200.5,467.5" stroke-width="3"/>
  <path d="M154,500 C148,497 138,494.5 128,494" stroke-width="4.5"/>
  <path d="M128,494 L117.5,493.8 M128,494 L132.5,486 M128,494 L122.5,500.5" stroke-width="3"/>
  <path d="M400,706.5 L555,706.5 C578,706 598,718 614,726 C626,732 640,733 645,722 C648,712 647,702 646,693" stroke-width="7.5"/>
</g>
<g fill="none" stroke="#d03333" stroke-linecap="round" stroke-linejoin="round" stroke-width="6.5">
  <path d="M855.6,97 L846,104 C836,112 818,128 808.6,137.4 C799,147 790,158 784.8,167 C779,176 774,188 769,200.6 L753.2,236.2 C749,246 746,254 743,262 C738,276 733,290 729,302 C725,314 720,325 717.5,334.5 C713,346 710,352 708,362 C705,374 704.6,385 704.6,400 L705.5,479"/>
  <path d="M665,517 L665,560 C665,580 658,592 648,603 C640,612 630,622 621,634 C616,642 615,650 615,657 C617,665 625,671 631,676 L631,688 M631,675 L644,675"/>
</g>
<circle cx="855.6" cy="96.9" r="6" fill="#ffffff" stroke="#8f0000" stroke-width="3.8"/>
<circle cx="645.6" cy="691.4" r="6.5" fill="#ffffff" stroke="#990000" stroke-width="4"/>
<polygon points="285.3,686.3 286.6,699.6 295.3,688.4 290.3,701.8 303.7,696.8 292.5,705.6 305.8,707.2 292.6,709.7 304.4,718.0 290.8,713.4 298.1,726.4 287.6,715.8 288.0,730.6 283.5,716.5 276.9,729.5 279.6,715.2 267.5,723.9 276.8,712.3 262.6,714.9 275.6,708.6 261.9,704.4 276.3,704.5 266.7,694.7 278.8,701.2 274.8,687.7 282.5,699.5" fill="#ffe600" stroke="#f2a77a" stroke-width="1" stroke-linejoin="miter"/>
<!-- arrows -->
<path d="M205,738 L330,738" stroke="#a30b0b" stroke-width="5.5"/>
<path d="M326,727 L344,737.8 L326,749 L332,738 Z" fill="#a30b0b"/>
<path d="M702.5,531 L702.5,588" stroke="#a00000" stroke-width="7.5"/>
<path d="M688.5,580 L702.5,586 L716,580 L702.5,601 Z" fill="#a00000"/>

<!-- TEXT -->
<text x="350.8" y="37.7" textLength="173" lengthAdjust="spacingAndGlyphs">Motor cortex</text>
<text x="250" y="451.8" textLength="94.3" lengthAdjust="spacingAndGlyphs">Muscle</text>
<text x="258.3" y="488.5" textLength="77" lengthAdjust="spacingAndGlyphs">fibers</text>
<text x="782.2" y="446.6" textLength="105" lengthAdjust="spacingAndGlyphs">Medulla</text>
<text x="764.9" y="482.9" textLength="138.8" lengthAdjust="spacingAndGlyphs">Oblongata</text>
<text x="747" y="559.2" textLength="58.7" lengthAdjust="spacingAndGlyphs">CNS</text>
<text x="718" y="595.2" textLength="113.8" lengthAdjust="spacingAndGlyphs">Pathway</text>
<text x="373.7" y="681" textLength="81.3" lengthAdjust="spacingAndGlyphs">Nerve</text>
<text x="177.7" y="771.6" textLength="199.3" lengthAdjust="spacingAndGlyphs">Somatic motor</text>
<text x="219" y="807.8" textLength="116" lengthAdjust="spacingAndGlyphs">pathway</text>
<text x="553" y="842.3" textLength="277" lengthAdjust="spacingAndGlyphs">Spinal cord segment</text>
</svg>
</body></html>
